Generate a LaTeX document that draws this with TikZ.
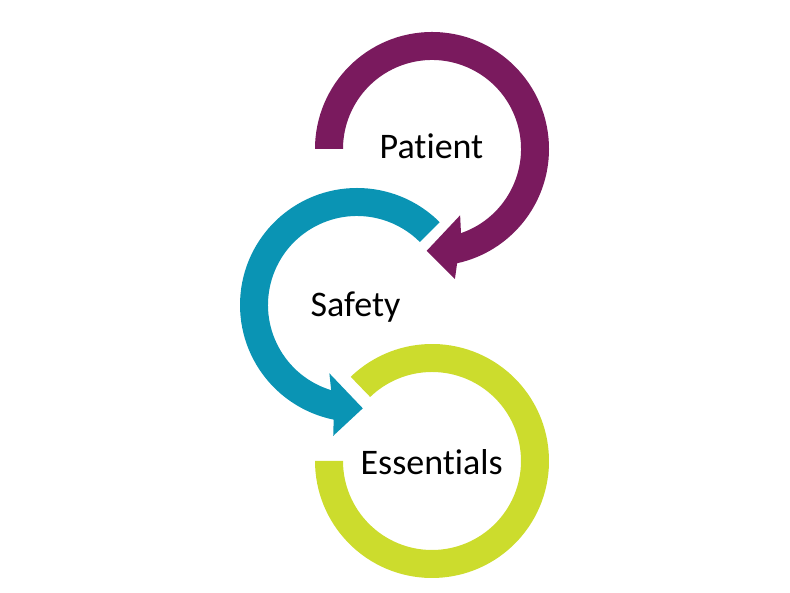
\documentclass[tikz,border=0pt]{standalone}
\usepackage{fontspec}
\setmainfont{Carlito}[Ligatures=NoCommon]
\definecolor{ringpurple}{HTML}{7A1A5E}
\definecolor{ringteal}{HTML}{0A94B4}
\definecolor{ringgreen}{HTML}{CCDC2D}
\tikzset{
  ringlabel/.style={
    anchor=base,
    inner sep=0pt,
    text=black,
    font=\fontsize{36}{43}\selectfont
  },
  purplering/.style={fill=ringpurple},
  tealring/.style={fill=ringteal},
  greenring/.style={fill=ringgreen}
}

\begin{document}
\begin{tikzpicture}[x=1pt, y=1pt]
\useasboundingbox (0,0) rectangle (790,593);

% ring centres
\coordinate (pc) at (432,444);
\coordinate (sc) at (357,288);
\coordinate (ec) at (432,132);

% Patient: clockwise arrow
\begin{scope}[shift={(pc)}]
  \fill[purplering] (180:117) arc[start angle=180, end angle=-77.6, radius=117]
    -- (-80:132) -- (-93:102) -- (-67:72) -- (-71:89)
    arc[start angle=-71, end angle=180, radius=89] -- cycle;
\end{scope}

% Safety: anticlockwise arrow
\begin{scope}[shift={(sc)}]
  \fill[tealring] (45:117) arc[start angle=45, end angle=258.5, radius=117]
    -- (259.7:133) -- (273.2:103.5) -- (248:73.7) -- (253.1:89)
    arc[start angle=253.1, end angle=45, radius=89] -- cycle;
\end{scope}

% Essentials: open ring
\begin{scope}[shift={(ec)}]
  \fill[greenring] (134:117) arc[start angle=134, end angle=-180, radius=117]
    -- (-180:89) arc[start angle=-180, end angle=134, radius=89] -- cycle;
\end{scope}

\node[ringlabel] (patient) at (431.5,434.7) {Patient};
\node[ringlabel] (safety) at (355.5,276.3) {Safety};
\node[ringlabel] (essentials) at (431.7,118) {Essentials};
\end{tikzpicture}
\end{document}
